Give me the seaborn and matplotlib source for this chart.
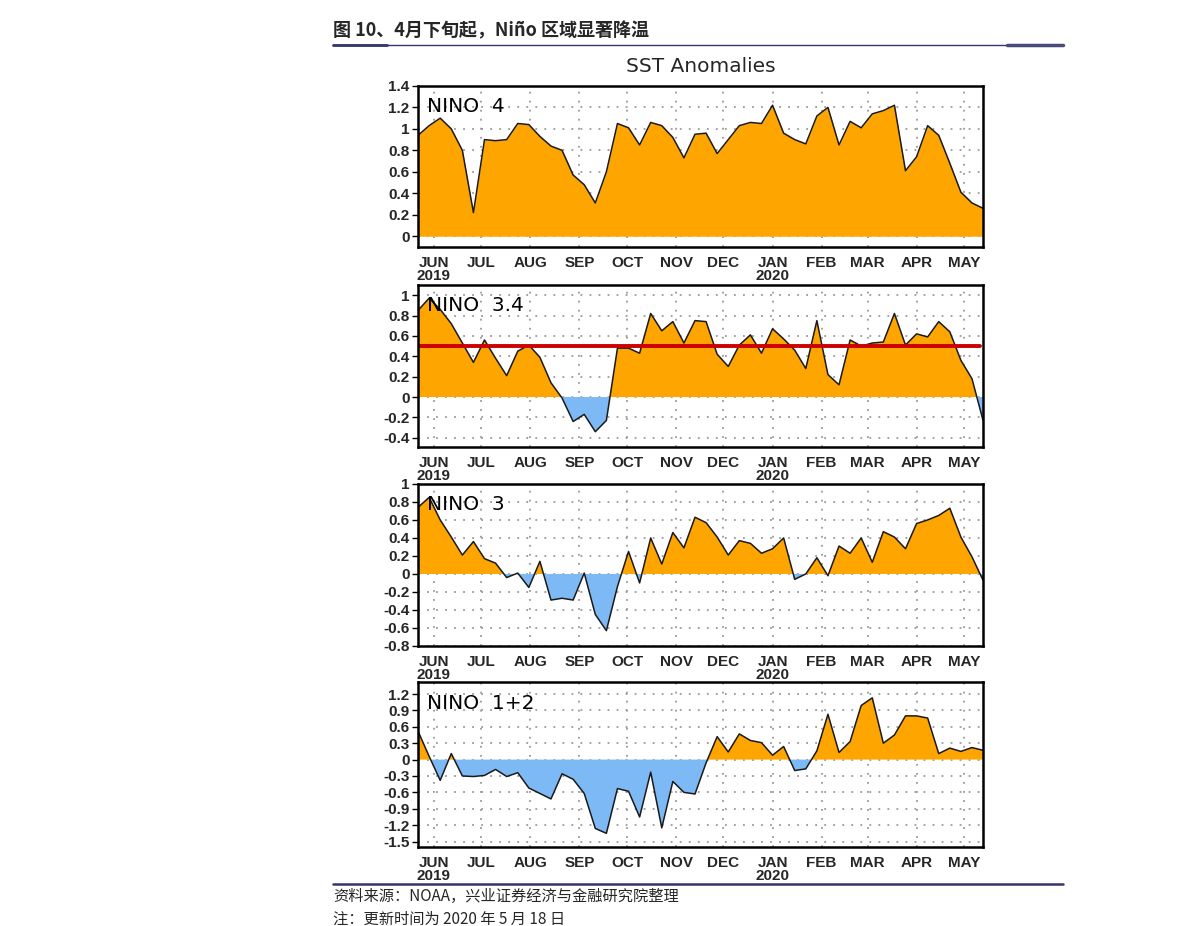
import numpy as np
import pandas as pd
import matplotlib
matplotlib.use('Agg')
import matplotlib.pyplot as plt
from matplotlib.ticker import MultipleLocator, FuncFormatter
from matplotlib.font_manager import FontProperties
import seaborn as sns

# 周数据：2019-05-22 起每周一个点
weeks = pd.date_range('2019-05-22', periods=52, freq='7D')

nino4 = [0.94, 1.03, 1.10, 1.00, 0.80, 0.22, 0.90, 0.89, 0.90, 1.05,
         1.04, 0.93, 0.84, 0.80, 0.57, 0.48, 0.31, 0.60, 1.05, 1.01,
         0.85, 1.06, 1.03, 0.92, 0.73, 0.95, 0.96, 0.77, 0.90, 1.03,
         1.06, 1.05, 1.22, 0.96, 0.90, 0.86, 1.12, 1.20, 0.85, 1.07,
         1.01, 1.14, 1.17, 1.22, 0.61, 0.74, 1.03, 0.94, 0.68, 0.41,
         0.31, 0.26]
nino34 = [0.85, 0.97, 0.86, 0.72, 0.53, 0.34, 0.56, 0.38, 0.21, 0.45,
          0.51, 0.39, 0.14, -0.01, -0.24, -0.17, -0.34, -0.23, 0.48, 0.48,
          0.43, 0.82, 0.65, 0.74, 0.53, 0.75, 0.74, 0.42, 0.30, 0.51,
          0.61, 0.43, 0.67, 0.57, 0.46, 0.28, 0.75, 0.22, 0.12, 0.56,
          0.50, 0.53, 0.54, 0.82, 0.51, 0.62, 0.59, 0.74, 0.64, 0.36,
          0.18, -0.23]
nino3 = [0.74, 0.85, 0.60, 0.41, 0.21, 0.36, 0.17, 0.12, -0.04, 0.01,
         -0.15, 0.14, -0.29, -0.27, -0.29, 0.01, -0.45, -0.63, -0.14, 0.25,
         -0.10, 0.40, 0.11, 0.46, 0.29, 0.63, 0.57, 0.41, 0.21, 0.37,
         0.34, 0.23, 0.28, 0.40, -0.06, 0.00, 0.18, -0.02, 0.31, 0.23,
         0.40, 0.13, 0.47, 0.41, 0.28, 0.56, 0.60, 0.65, 0.73, 0.41,
         0.19, -0.07]
nino12 = [0.52, 0.06, -0.38, 0.11, -0.30, -0.31, -0.29, -0.18, -0.31, -0.24,
          -0.52, -0.62, -0.72, -0.26, -0.36, -0.62, -1.26, -1.35, -0.53, -0.58,
          -1.05, -0.23, -1.25, -0.40, -0.60, -0.63, -0.06, 0.42, 0.14, 0.47,
          0.35, 0.31, 0.08, 0.24, -0.20, -0.17, 0.16, 0.83, 0.13, 0.33,
          0.99, 1.13, 0.30, 0.45, 0.80, 0.80, 0.76, 0.11, 0.21, 0.15,
          0.22, 0.17]

panel_names = ['NINO  4', 'NINO  3.4', 'NINO  3', 'NINO  1+2']
panel_data = [nino4, nino34, nino3, nino12]
panel_ylim = [(-0.1, 1.4), (-0.49, 1.1), (-0.8, 1.0), (-1.6, 1.42)]
panel_ystep = [0.2, 0.2, 0.2, 0.3]
threshold_34 = 0.5

month_ticks = pd.date_range('2019-06-01', '2020-05-01', freq='MS')
month_labels = [d.strftime('%b').upper() for d in month_ticks]
month_labels[0] += '\n2019'
month_labels[7] += '\n2020'

sns.set_style('white')
plt.rcParams['font.family'] = ['Noto Sans CJK SC', 'DejaVu Sans']
plt.rcParams['axes.unicode_minus'] = False

fig = plt.figure(figsize=(11.91, 9.26), dpi=100)

# 每个面板的位置 (left, bottom, width, height)
boxes = [(0.351, 0.7333, 0.4744, 0.1739),
         (0.351, 0.5173, 0.4744, 0.1750),
         (0.351, 0.3024, 0.4744, 0.1750),
         (0.351, 0.0853, 0.4744, 0.1782)]

tick_fp = FontProperties(family=['Liberation Sans', 'DejaVu Sans'], weight='bold', size=11)
grid_kw = dict(color='#9a9a9a', linestyle=(0, (1, 4)), linewidth=1.3)

for i, (name, vals) in enumerate(zip(panel_names, panel_data)):
    ax = fig.add_axes(boxes[i])
    df = pd.DataFrame({'week': weeks, 'anom': vals})
    y = np.array(vals)
    ax.fill_between(weeks, 0, y, where=y >= 0, interpolate=True,
                    color='#FFA500', linewidth=0, zorder=1)
    ax.fill_between(weeks, 0, y, where=y <= 0, interpolate=True,
                    color='#7DB9F4', linewidth=0, zorder=1)
    sns.lineplot(x='week', y='anom', data=df, color='#1a1a1a', linewidth=1.1, ax=ax, zorder=4)
    if name == 'NINO  3.4':
        ax.plot([weeks[0], weeks[-2] + pd.Timedelta(days=5)], [threshold_34, threshold_34],
                color='#CC0000', linewidth=2.8, zorder=5)

    ax.set_xlim(weeks[0], weeks[-1])
    ax.set_ylim(*panel_ylim[i])
    ax.yaxis.set_major_locator(MultipleLocator(panel_ystep[i]))
    ax.yaxis.set_major_formatter(FuncFormatter(
        lambda v, _: '0' if abs(v) < 1e-9 else f'{round(v, 2):g}'))
    ax.set_xticks(month_ticks)
    ax.set_xticklabels(month_labels, linespacing=0.95)
    for lab in ax.get_xticklabels() + ax.get_yticklabels():
        lab.set_fontproperties(tick_fp)
    ax.tick_params(axis='y', left=True, length=4, width=1, pad=2, color='black')
    ax.tick_params(axis='x', bottom=False, pad=3)
    ax.grid(True, **grid_kw)
    for gl in ax.get_xgridlines() + ax.get_ygridlines():
        gl.set_zorder(3)
    for sp in ax.spines.values():
        sp.set_color('black')
        sp.set_linewidth(1.8)
        sp.set_zorder(6)
    ax.set_xlabel('')
    ax.set_ylabel('')
    ax.text(0.016, 0.93, name, transform=ax.transAxes, ha='left', va='top',
            fontsize=14.5, family='DejaVu Sans', color='black', zorder=7)

fig.text(0.5885, 0.928, 'SST Anomalies', ha='center', va='center',
         fontsize=14.5, family='DejaVu Sans', weight='medium')

# 标题与边线
fig.text(0.2795, 0.9665, '图 10、4月下旬起，Niño 区域显著降温', ha='left', va='center',
         fontsize=13, weight='bold')
navy = '#34346e'
fig.add_artist(plt.Line2D([0.2795, 0.8925], [0.9515, 0.9515], color=navy, linewidth=1.0))
fig.add_artist(plt.Line2D([0.2795, 0.325], [0.9515, 0.9515], color=navy, linewidth=2.0))
fig.add_artist(plt.Line2D([0.8455, 0.8925], [0.9515, 0.9515], color='#4a4a7a', linewidth=2.5))
fig.add_artist(plt.Line2D([0.2795, 0.8925], [0.0455, 0.0455], color=navy, linewidth=1.8))

fig.text(0.2795, 0.0315, '资料来源：NOAA，兴业证券经济与金融研究院整理', ha='left', va='center',
         fontsize=11)
fig.text(0.2795, 0.0075, '注：更新时间为 2020 年 5 月 18 日', ha='left', va='center',
         fontsize=11)

plt.savefig('out.png', dpi=100)
